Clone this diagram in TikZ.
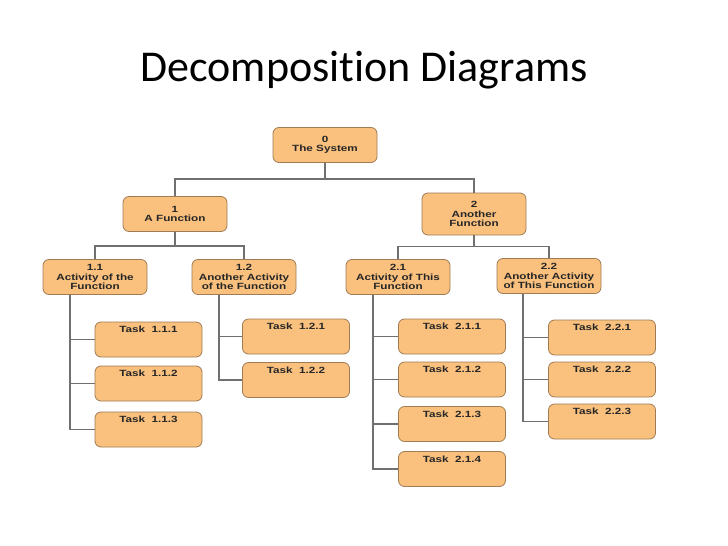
\documentclass[tikz,border=0pt]{standalone}
\usepackage{fontspec}
\setmainfont{Carlito}[Ligatures=NoCommon]
\newfontfamily\boxfont{Liberation Sans}[FakeStretch=1.3]
\definecolor{boxfill}{RGB}{249,192,126}
\definecolor{boxline}{RGB}{160,124,84}
\definecolor{wire}{RGB}{112,112,112}

\begin{document}
\begin{tikzpicture}[
  x=1pt,y=-1pt,
  box/.style={draw=boxline,fill=boxfill,line width=0.8pt,rounded corners=6pt,minimum width=104pt,minimum height=35pt,inner sep=2pt,align=center,text=black!85,font=\boxfont\bfseries\fontsize{9}{9.5}\selectfont},
  task/.style={box,minimum width=107pt,text height=7pt,text depth=21pt,inner ysep=3pt},
  link/.style={draw=wire,line width=1.2pt}
]
  \useasboundingbox[fill=white] (0,0) rectangle (728,546);

  \node[anchor=base,font=\fontsize{44}{50}\selectfont] (title) at (364,81) {Decomposition Diagrams};

  % top levels
  \node[box] (system) at (325,145) {0\\The System};
  \node[box] (function1) at (175,214) {1\\A Function};
  \node[box,minimum height=42pt] (function2) at (474,214) {2\\Another\\Function};

  \node[box] (activity11) at (95,277) {1.1\\Activity of the\\Function};
  \node[box] (activity12) at (244,277) {1.2\\Another Activity\\of the Function};
  \node[box] (activity21) at (398,277) {2.1\\Activity of This\\Function};
  \node[box] (activity22) at (549,276) {2.2\\Another Activity\\of This Function};

  % tasks
  \node[task] (task111) at (148.5,339.5) {Task~~1.1.1};
  \node[task] (task112) at (148.5,383.5) {Task~~1.1.2};
  \node[task] (task113) at (148.5,429.5) {Task~~1.1.3};

  \node[task] (task121) at (296,336.5) {Task~~1.2.1};
  \node[task] (task122) at (296,380) {Task~~1.2.2};

  \node[task] (task211) at (452,336.5) {Task~~2.1.1};
  \node[task] (task212) at (452,379.5) {Task~~2.1.2};
  \node[task] (task213) at (452,424) {Task~~2.1.3};
  \node[task] (task214) at (452,469) {Task~~2.1.4};

  \node[task] (task221) at (602,337.5) {Task~~2.2.1};
  \node[task] (task222) at (602,379.5) {Task~~2.2.2};
  \node[task] (task223) at (602,421.5) {Task~~2.2.3};

  % connectors
  \draw[link] (system.south) -- ++(0,16) -| (function1.north);
  \draw[link] (system.south) -- ++(0,16) -| (function2.north);
  \draw[link] (function1.south) -- ++(0,14) -| (activity11.north);
  \draw[link] (function1.south) -- ++(0,14) -| (activity12.north);
  \draw[link] (function2.south) -- ++(0,11) -| (activity21.north);
  \draw[link] (function2.south) -- ++(0,11) -| (activity22.north);

  \foreach \t in {111,112,113}
    \draw[link] ([xshift=-25pt]activity11.south) |- (task\t.west);
  \foreach \t in {121,122}
    \draw[link] ([xshift=-25pt]activity12.south) |- (task\t.west);
  \foreach \t in {211,212,213,214}
    \draw[link] ([xshift=-25pt]activity21.south) |- (task\t.west);
  \foreach \t in {221,222,223}
    \draw[link] ([xshift=-26pt]activity22.south) |- (task\t.west);
\end{tikzpicture}
\end{document}
